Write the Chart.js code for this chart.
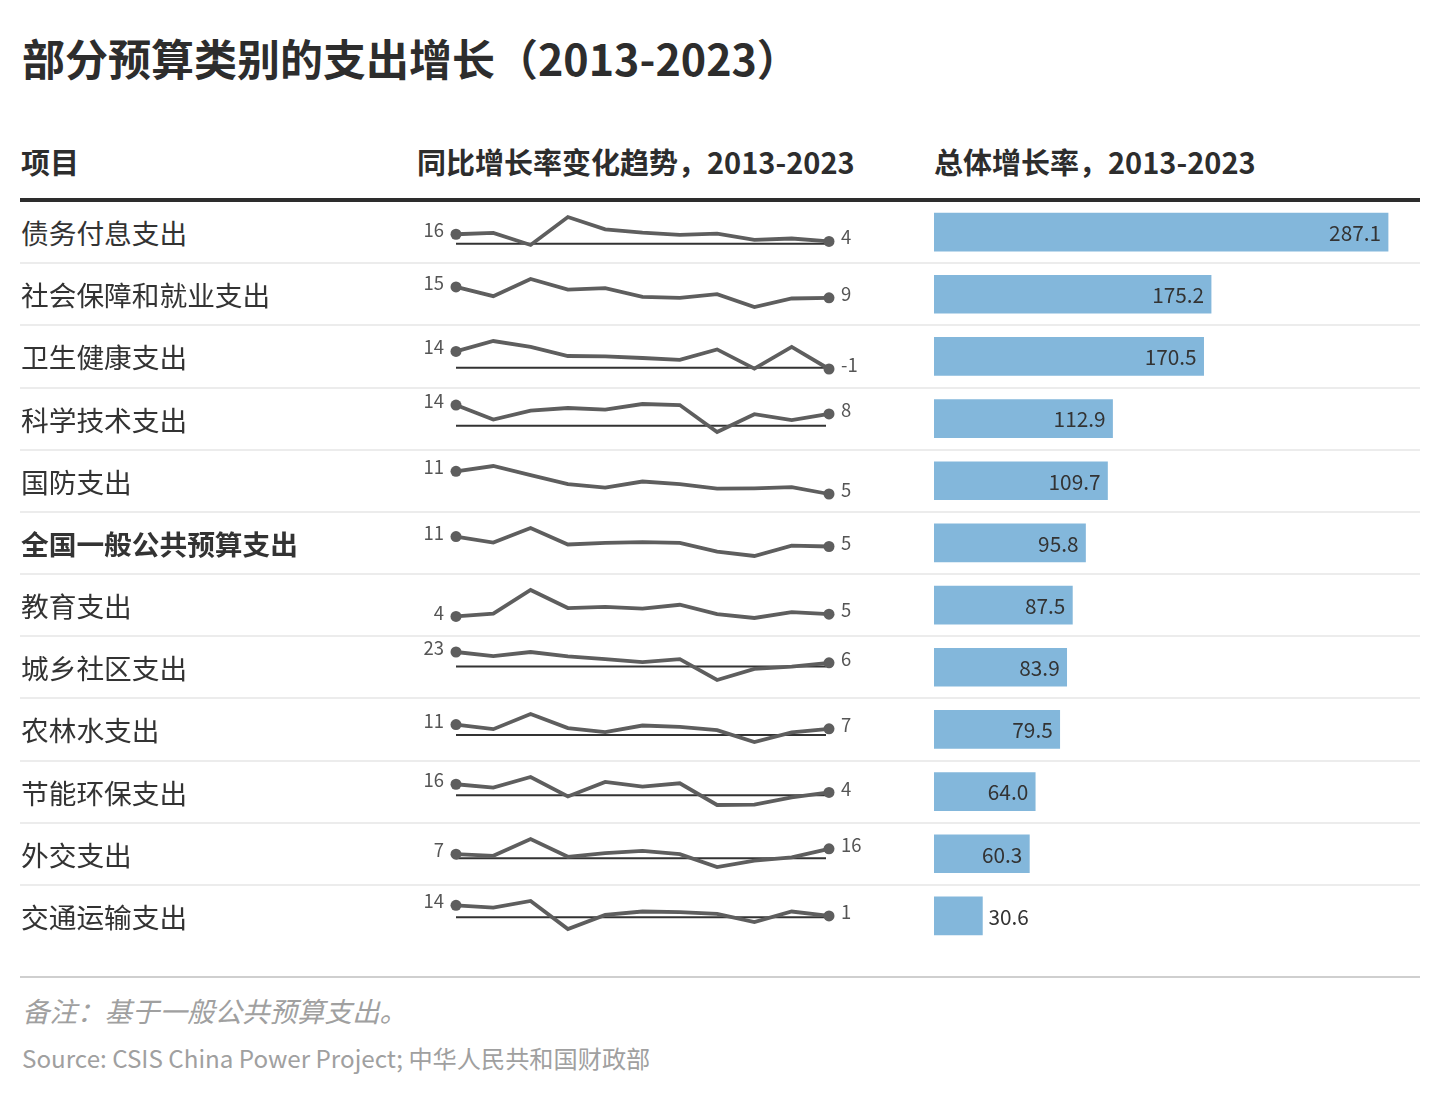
<!DOCTYPE html>
<html>
<head>
<meta charset="utf-8">
<script src="https://cdn.jsdelivr.net/npm/chart.js@4.4.1/dist/chart.umd.min.js"></script>
<style>
    body { margin: 0; background: #fff; font-family: "Noto Sans CJK SC", "Noto Sans", sans-serif; color: #333; }
    #wrap { position: relative; width: 1440px; height: 1096px; overflow: hidden; }
    .abs { position: absolute; white-space: nowrap; }
    .title { left: 22px; top: 28px; font-size: 43px; font-weight: 700; color: #2d2d2d; line-height: 58px; }
    .head { top: 140px; font-size: 29px; font-weight: 700; color: #2d2d2d; line-height: 42px; }
    .rowLabel { left: 21px; font-size: 27.7px; line-height: 62px; color: #333; }
    .sep { left: 20px; width: 1400px; height: 2px; background: #ececec; }
    .note { left: 22px; top: 990px; font-size: 27.5px; font-style: italic; color: #a0a0a0; line-height: 40px; }
    .source { left: 22px; top: 1040px; font-size: 24.2px; color: #a0a0a0; line-height: 36px; }
    canvas { position: absolute; }
</style>
</head>
<body>
<div id="wrap">
    <div class="abs title">部分预算类别的支出增长（2013-2023）</div>
    <div class="abs head" style="left:21px">项目</div>
    <div class="abs head" style="left:417px">同比增长率变化趋势，2013-2023</div>
    <div class="abs head" style="left:934px">总体增长率，2013-2023</div>
    <div class="abs" style="left:20px;top:198px;width:1400px;height:4px;background:#2d2d2d"></div>
    <div class="abs" style="left:20px;top:976px;width:1400px;height:2px;background:#cfcfcf"></div>
    <div class="abs note">备注：基于一般公共预算支出。</div>
    <div class="abs source">Source: CSIS China Power Project; 中华人民共和国财政部</div>
    <canvas id="bars" width="486" height="746" style="left:934px;top:201px"></canvas>
</div>
<script>
const categories = [
    "债务付息支出", "社会保障和就业支出", "卫生健康支出", "科学技术支出",
    "国防支出", "全国一般公共预算支出", "教育支出", "城乡社区支出",
    "农林水支出", "节能环保支出", "外交支出", "交通运输支出"
];
const years = ["2013", "2014", "2015", "2016", "2017", "2018", "2019", "2020", "2021", "2022", "2023"];

// 同比增长率 (%)
const debtInterest = [16.0, 18.2, -2.0, 44.9, 24.2, 18.7, 14.9, 17.1, 6.7, 8.9, 4.0];
const socialSecurity = [15.0, 9.9, 19.4, 13.5, 14.3, 9.5, 9.0, 11.0, 3.9, 8.6, 9.0];
const health = [14.0, 22.9, 17.9, 10.1, 9.8, 8.4, 6.8, 15.7, -0.7, 17.9, -1.0];
const science = [14.0, 4.2, 10.2, 12.0, 10.9, 14.7, 14.0, -4.2, 7.8, 3.8, 8.0];
const defense = [11.0, 12.4, 10.0, 7.6, 6.7, 8.3, 7.6, 6.4, 6.5, 6.8, 5.0];
const generalBudget = [10.9, 7.6, 15.7, 6.5, 7.4, 7.8, 7.4, 2.6, 0.1, 5.9, 5.4];
const education = [3.6, 4.7, 14.0, 6.9, 7.4, 6.7, 8.2, 4.5, 3.0, 5.3, 4.5];
const urbanRural = [23.0, 16.6, 23.0, 16.1, 11.8, 7.0, 11.8, -21.1, -3.6, 0.1, 6.0];
const agriculture = [11.2, 6.3, 22.5, 7.4, 3.2, 10.2, 8.8, 5.3, -7.4, 2.8, 6.7];
const environment = [16.0, 11.2, 26.6, -1.8, 19.4, 12.6, 17.4, -14.3, -13.8, -3.2, 4.0];
const diplomacy = [7.0, 4.2, 32.8, 2.5, 8.7, 12.6, 7.0, -14.9, -4.2, 1.4, 16.0];
const transport = [14.1, 11.4, 19.2, -14.1, 2.7, 6.7, 5.9, 3.9, -5.9, 6.7, 1.4];

// 总体增长率 (%), 2013-2023
const totalGrowth = [287.1, 175.2, 170.5, 112.9, 109.7, 95.8, 87.5, 83.9, 79.5, 64.0, 60.3, 30.6];

const trendSeries = [
    debtInterest, socialSecurity, health, science, defense, generalBudget,
    education, urbanRural, agriculture, environment, diplomacy, transport
];
const boldRow = "全国一般公共预算支出";

const wrap = document.getElementById("wrap");
const rowTop = 201;
const rowH = 62.18;
const lineColor = "#5e5e5e";
const font = '"Noto Sans CJK SC", "Noto Sans", sans-serif';

// zero line under the sparkline, only when the series crosses zero
const zeroLine = {
    id: "zeroLine",
    beforeDatasetsDraw(chart) {
        const y = chart.scales.y;
        if (y.min >= 0 || y.max <= 0) return;
        const { ctx, chartArea } = chart;
        const py = y.getPixelForValue(0);
        ctx.save();
        ctx.strokeStyle = "#333";
        ctx.lineWidth = 2;
        ctx.beginPath();
        ctx.moveTo(chartArea.left, py);
        ctx.lineTo(chartArea.right - 3, py);
        ctx.stroke();
        ctx.restore();
    },
};

// first / last value labels
const endLabels = {
    id: "endLabels",
    afterDatasetsDraw(chart) {
        const { ctx } = chart;
        const meta = chart.getDatasetMeta(0);
        const data = chart.data.datasets[0].data;
        const first = meta.data[0];
        const last = meta.data[meta.data.length - 1];
        ctx.save();
        ctx.font = "18.5px " + font;
        ctx.fillStyle = "#555";
        ctx.textBaseline = "middle";
        ctx.textAlign = "right";
        ctx.fillText(Math.round(data[0]), first.x - 12, first.y - 4);
        ctx.textAlign = "left";
        ctx.fillText(Math.round(data[data.length - 1]), last.x + 12, last.y - 4);
        ctx.restore();
    },
};

categories.forEach((name, i) => {
    const top = rowTop + i * rowH;

    if (i > 0) {
        const sep = document.createElement("div");
        sep.className = "abs sep";
        sep.style.top = (top - 1) + "px";
        wrap.appendChild(sep);
    }

    const label = document.createElement("div");
    label.className = "abs rowLabel";
    label.style.top = top + "px";
    label.textContent = name;
    if (name === boldRow) label.style.fontWeight = "700";
    wrap.appendChild(label);

    const canvas = document.createElement("canvas");
    canvas.width = 480;
    canvas.height = 62;
    canvas.style.left = "400px";
    canvas.style.top = top + "px";
    wrap.appendChild(canvas);

    const values = trendSeries[i];
    const last = values.length - 1;
    new Chart(canvas, {
        type: "line",
        data: {
            labels: years,
            datasets: [
                {
                    data: values,
                    borderColor: lineColor,
                    backgroundColor: lineColor,
                    borderWidth: 3.8,
                    tension: 0,
                    clip: false,
                    pointRadius: (ctx) => (ctx.dataIndex === 0 || ctx.dataIndex === last ? 5.5 : 0),
                    pointBorderWidth: 0,
                },
            ],
        },
        options: {
            responsive: false,
            animation: false,
            layout: { padding: { left: 56, right: 51, top: 16, bottom: 18 } },
            scales: {
                x: { display: false, offset: false },
                y: { display: false, min: Math.min(...values), max: Math.max(...values) },
            },
            plugins: { legend: { display: false }, tooltip: { enabled: false } },
        },
        plugins: [zeroLine, endLabels],
    });
});

// value labels for the total-growth bars
const barLabels = {
    id: "barLabels",
    afterDatasetsDraw(chart) {
        const { ctx } = chart;
        const meta = chart.getDatasetMeta(0);
        ctx.save();
        ctx.font = "20.8px " + font;
        ctx.fillStyle = "#333";
        ctx.textBaseline = "middle";
        meta.data.forEach((bar, i) => {
            const text = totalGrowth[i].toFixed(1);
            const w = ctx.measureText(text).width;
            if (bar.x - bar.base > w + 16) {
                ctx.textAlign = "right";
                ctx.fillText(text, bar.x - 7, bar.y + 1);
            } else {
                ctx.textAlign = "left";
                ctx.fillText(text, bar.x + 6, bar.y + 1);
            }
        });
        ctx.restore();
    },
};

new Chart(document.getElementById("bars"), {
    type: "bar",
    data: {
        labels: categories,
        datasets: [
            {
                data: totalGrowth,
                backgroundColor: "#83b7db",
                barThickness: 38,
            },
        ],
    },
    options: {
        indexAxis: "y",
        responsive: false,
        animation: false,
        layout: { padding: 0 },
        scales: {
            x: { display: false, min: 0, max: 307.3 },
            y: { display: false },
        },
        plugins: { legend: { display: false }, tooltip: { enabled: false } },
    },
    plugins: [barLabels],
});
</script>
</body>
</html>
